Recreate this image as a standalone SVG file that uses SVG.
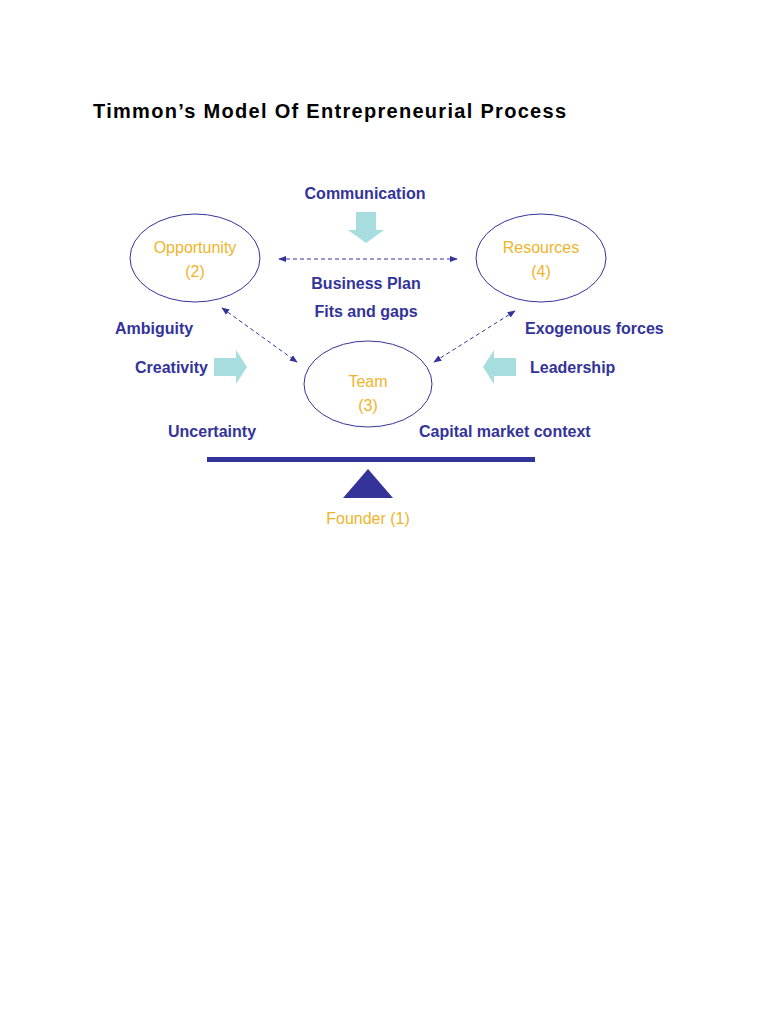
<svg xmlns="http://www.w3.org/2000/svg" width="768" height="1024" viewBox="0 0 768 1024">
<defs>
<style>
.b{fill:#33339a;font-family:"Liberation Sans",Arial,sans-serif;font-weight:bold;font-size:16px}
.y{fill:#f0b429;font-family:"Liberation Sans",Arial,sans-serif;font-size:16px}
.e{fill:none;stroke:#33339a;stroke-width:1}
.d{stroke:#33339a;stroke-width:1;stroke-dasharray:4,3;fill:none;marker-start:url(#a);marker-end:url(#a)}
.f{fill:#a8dde0}
</style>
<marker id="a" viewBox="0 0 10 10" refX="9" refY="5" markerWidth="8" markerHeight="8" orient="auto-start-reverse" markerUnits="userSpaceOnUse"><path d="M0,1 L10,5 L0,9 Z" fill="#33339a"/></marker>
</defs>
<rect width="768" height="1024" fill="#fff"/>
<text x="93" y="118" textLength="473" style="font-family:'Liberation Sans',Arial,sans-serif;font-weight:bold;font-size:20px;fill:#000">Timmon’s Model Of Entrepreneurial Process</text>
<g id="opportunity"><ellipse class="e" cx="195" cy="258" rx="65" ry="44"/><text class="y" x="195" y="253" text-anchor="middle">Opportunity</text><text class="y" x="195" y="277" text-anchor="middle">(2)</text></g>
<g id="resources"><ellipse class="e" cx="541" cy="258" rx="65" ry="44"/><text class="y" x="541" y="253" text-anchor="middle">Resources</text><text class="y" x="541" y="277" text-anchor="middle">(4)</text></g>
<g id="team"><ellipse class="e" cx="368" cy="384" rx="64" ry="43"/><text class="y" x="368" y="387" text-anchor="middle">Team</text><text class="y" x="368" y="411" text-anchor="middle">(3)</text></g>
<g id="founder"><rect x="207" y="457" width="328" height="5" fill="#33339a"/><path d="M368,469 L393,498 L343,498 Z" fill="#33339a"/><text class="y" x="368" y="524" text-anchor="middle">Founder (1)</text></g>
<g id="labels">
<text class="b" x="365" y="199" text-anchor="middle">Communication</text>
<text class="b" x="366" y="289" text-anchor="middle">Business Plan</text>
<text class="b" x="366" y="317" text-anchor="middle">Fits and gaps</text>
<text class="b" x="115" y="334">Ambiguity</text>
<text class="b" x="135" y="373">Creativity</text>
<text class="b" x="168" y="437">Uncertainty</text>
<text class="b" x="525" y="334">Exogenous forces</text>
<text class="b" x="530" y="373">Leadership</text>
<text class="b" x="419" y="437">Capital market context</text>
</g>
<g id="connectors">
<path class="f" d="M356,212 H376 V230 H384 L366,243 L348,230 H356 Z"/>
<path class="f" d="M214,358 H236 V350 L247,367 L236,384 V376 H214 Z"/>
<path class="f" d="M516,358 H494 V350 L483,367 L494,384 V376 H516 Z"/>
<line class="d" x1="279" y1="259" x2="457" y2="259"/>
<line class="d" x1="222" y1="308" x2="297" y2="362"/>
<line class="d" x1="515" y1="311" x2="434" y2="362"/>
</g>
</svg>
